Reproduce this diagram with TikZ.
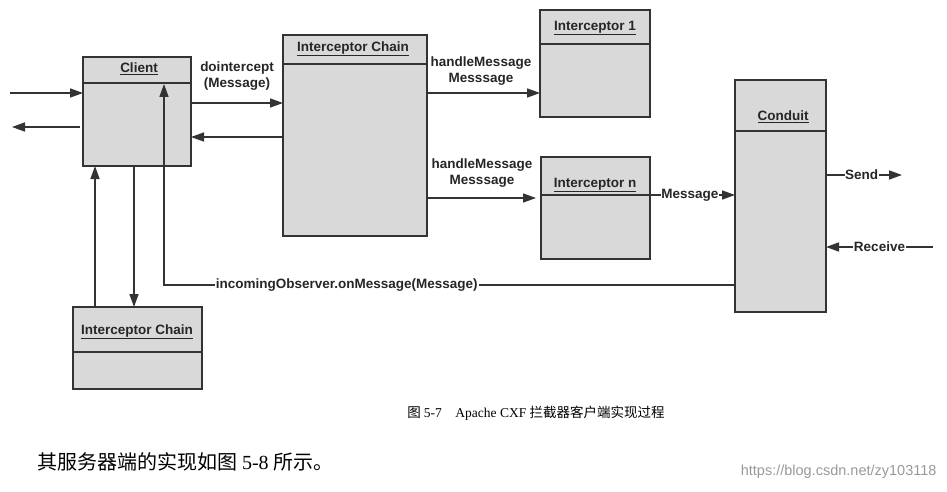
\documentclass[tikz,border=0pt]{standalone}
\usepackage{fontspec}
\setmainfont{Liberation Sans}
\newfontfamily\serif{Liberation Serif}
\newfontfamily\cjk{Noto Sans CJK SC}
\usetikzlibrary{arrows.meta}
\begin{document}
\begin{tikzpicture}[x=1pt,y=-1pt,
  box/.style={draw=black!80,line width=2pt,fill=black!15},
  arr/.style={draw=black!80,line width=1.6pt,-{Triangle[length=13pt,width=9pt]}},
  ln/.style={draw=black!80,line width=2pt},
  lab/.style={font=\bfseries\fontsize{13.5}{16}\selectfont,text=black!85,inner sep=1pt},
  ttl/.style={font=\bfseries\fontsize{13.5}{16}\selectfont,text=black!85}]
\useasboundingbox (0,0) rectangle (947,492);
\newcommand\umlbox[6]{%
  \draw[box] (#2,#3) rectangle (#4,#5);
  \draw[ln] (#2,#6) -- (#4,#6);
  \coordinate (#1-nw) at (#2,#3);}
\umlbox{cl}{83}{57}{191}{166}{83}
\node[ttl] (clt) at (139,69) {\underline{Client}};
\umlbox{ch}{283}{35}{427}{236}{64}
\node[ttl] (cht) at (353,49) {\underline{Interceptor Chain}};
\umlbox{i1}{540}{10}{650}{117}{44}
\node[ttl] (i1t) at (595,28) {\underline{Interceptor 1}};
\umlbox{in}{541}{157}{650}{259}{195}
\node[ttl] (int) at (595,185) {\underline{Interceptor n}};
\umlbox{co}{735}{80}{826}{312}{131}
\node[ttl] (cot) at (783,117) {\underline{Conduit}};
\umlbox{bc}{73}{307}{202}{389}{352}
\node[ttl] (bct) at (137,332) {\underline{Interceptor Chain}};
\coordinate (inL) at (10,93); \coordinate (inR) at (83,93);
\draw[arr] (inL) -- (inR);
\coordinate (outR) at (80,127); \coordinate (outL) at (12,127);
\draw[arr] (outR) -- (outL);
\coordinate (a1) at (191,103); \coordinate (a2) at (283,103);
\draw[arr] (a1) -- (a2);
\node[lab,align=center] (dl) at (237,76) {dointercept\\(Message)};
\coordinate (b1) at (283,137); \coordinate (b2) at (191,137);
\draw[arr] (b1) -- (b2);
\coordinate (c1) at (427,93); \coordinate (c2) at (540,93);
\draw[arr] (c1) -- (c2);
\node[lab,align=center] (cl1) at (481,71) {handleMessage\\Messsage};
\coordinate (d1) at (427,198); \coordinate (d2) at (536,198);
\draw[arr] (d1) -- (d2);
\node[lab,align=center] (cl2) at (482,173) {handleMessage\\Messsage};
\coordinate (e1) at (650,195); \coordinate (e2) at (735,195);
\draw[arr] (e1) -- node[lab,fill=white,inner sep=0.5pt,pos=0.47] (ml) {Message} (e2);
\coordinate (s1) at (826,175); \coordinate (s2) at (902,175);
\draw[arr] (s1) -- node[lab,fill=white,inner sep=0.5pt,pos=0.47] (sl) {Send} (s2);
\coordinate (r1) at (933,247); \coordinate (r2) at (826,247);
\draw[arr] (r1) -- node[lab,fill=white,inner sep=0.5pt,pos=0.5] (rl) {Receive} (r2);
\coordinate (u1) at (95,307); \coordinate (u2) at (95,166);
\draw[arr] (u1) -- (u2);
\coordinate (v1) at (134,166); \coordinate (v2) at (134,307);
\draw[arr] (v1) -- (v2);
\coordinate (w1) at (735,285); \coordinate (w2) at (164,285); \coordinate (w3) at (164,84);
\draw[arr] (w1) -- node[lab,fill=white,pos=0.68] (il) {incomingObserver.onMessage(Message)} (w2) -- (w3);
\node[font=\fontsize{13.5}{16}\selectfont] (cap) at (536,413) {\cjk 图\ \serif 5-7\quad Apache CXF \cjk 拦截器客户端实现过程};
\node[font=\fontsize{20}{24}\selectfont,anchor=west] (txt) at (34,462) {\cjk 其服务器端的实现如图\ \serif 5-8\ \cjk 所示。};
\node[font=\fontsize{14.5}{17}\selectfont,text=black!40,anchor=east] (wm) at (940,472) {https://blog.csdn.net/zy103118};
\end{tikzpicture}
\end{document}
